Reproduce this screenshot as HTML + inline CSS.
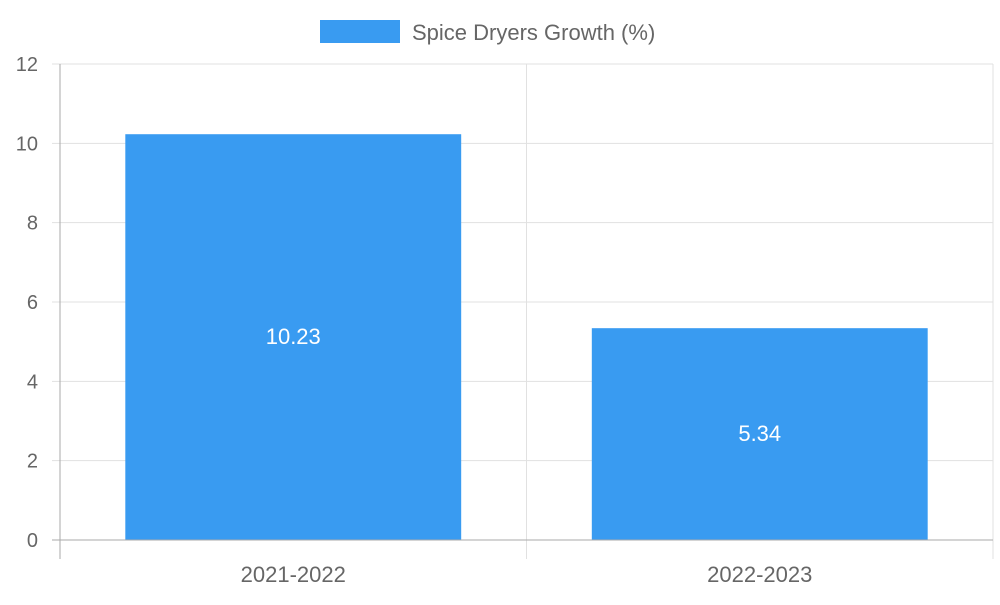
<!DOCTYPE html>
<html><head><meta charset="utf-8"><style>
body{margin:0;background:#fff;font-family:"Liberation Sans",sans-serif}
svg text{font-family:"Liberation Sans",sans-serif}
</style></head><body>
<svg id="chart" width="1000" height="600" viewBox="0 0 1000 600" xmlns="http://www.w3.org/2000/svg">
<g>
<rect x="320" y="20" width="80" height="23" fill="#399bf1"/>
<text x="412" y="40" font-size="22" fill="#666">Spice Dryers Growth (%)</text>
</g>
<g id="grid"></g>
<g id="bars"></g>
<g id="axes"></g>
</svg>
<script>
const categories = ["2021-2022", "2022-2023"];
const values = [10.23, 5.34];
const yTicks = [0, 2, 4, 6, 8, 10, 12];
const NS = "http://www.w3.org/2000/svg";
const L = 60, R = 993, T = 64, B = 540, yMax = 12;
const y = v => B - (v / yMax) * (B - T);
const catW = (R - L) / categories.length;
const x = i => L + catW * i;
function mk(tag, attrs, parent) {
  const e = document.createElementNS(NS, tag);
  for (const k in attrs) e.setAttribute(k, attrs[k]);
  parent.appendChild(e);
  return e;
}
const grid = document.getElementById("grid"), bars = document.getElementById("bars"), axes = document.getElementById("axes");
yTicks.forEach(t => {
  const ln = mk("line", {x1: 52, x2: R, y1: y(t), y2: y(t), stroke: t === 0 ? "#aaa" : "#e1e1e1", "stroke-width": 1}, t === 0 ? axes : grid);
  
  
  const tx = mk("text", {x: 38, y: y(t) + 7, "font-size": 20, fill: "#666", "text-anchor": "end"}, axes);
  tx.textContent = t;
  
  
});
for (let i = 0; i <= categories.length; i++) {
  const ln = mk("line", {x1: x(i), x2: x(i), y1: T, y2: 559, stroke: i === 0 ? "#aaa" : "#e1e1e1", "stroke-width": 1}, i === 0 ? axes : grid);
  
  
}
categories.forEach((c, i) => {
  const bw = catW * 0.72;
  const cx = x(i) + catW / 2;
  const r = mk("rect", {x: cx - bw / 2, y: y(values[i]), width: bw, height: B - y(values[i]), fill: "#399bf1"}, bars);
  
  
  const vl = mk("text", {x: cx, y: (y(values[i]) + B) / 2 + 7, "font-size": 22, fill: "#fff", "text-anchor": "middle"}, bars);
  vl.textContent = values[i];
  
  
  const xl = mk("text", {x: cx, y: 582, "font-size": 22, fill: "#666", "text-anchor": "middle"}, axes);
  xl.textContent = c;
  
  
});
</script>
</body></html>
